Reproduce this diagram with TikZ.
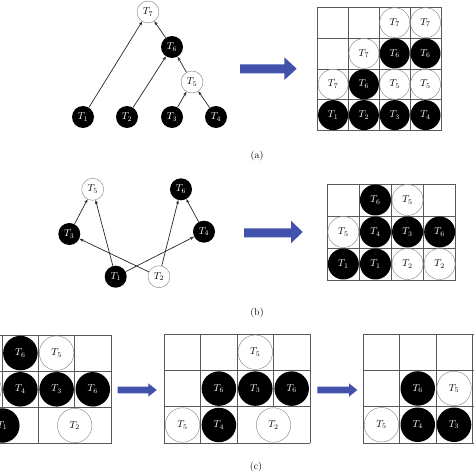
\documentclass[tikz,border=0pt]{standalone}
\usepackage{amsmath, amssymb}
\usepackage{tikz}
\usetikzlibrary{arrows.meta}

\definecolor{arrowblue}{RGB}{66,82,172}

\begin{document}
\begin{tikzpicture}[x=1pt, y=-1pt,
    blk/.style={circle, fill=black, text=white, inner sep=0pt, minimum size=22pt},
    wht/.style={circle, draw=gray, thin, fill=white, text=black, inner sep=0pt, minimum size=22pt},
    cellsize/.style={blk/.append style={minimum size=#1}, wht/.append style={minimum size=#1}},
    edge/.style={-{Stealth[length=4pt, width=3pt]}, line width=0.7pt, black!85},
    gridline/.style={line width=0.8pt, black!65}]
    \useasboundingbox (0,0) rectangle (474,474);
    \clip (0,0) rectangle (474,474);

    % (a) tree
    \node[wht] (a7) at (148,12) {$T_7$};
    \node[blk] (a6) at (172,47) {$T_6$};
    \node[wht] (a5) at (192,82) {$T_5$};
    \node[blk] (a1) at (83,117) {$T_1$};
    \node[blk] (a2) at (127,117) {$T_2$};
    \node[blk] (a3) at (172,117) {$T_3$};
    \node[blk] (a4) at (216,117) {$T_4$};
    \draw[edge] (a1) -- (a7);
    \draw[edge] (a6) -- (a7);
    \draw[edge] (a2) -- (a6);
    \draw[edge] (a5) -- (a6);
    \draw[edge] (a3) -- (a5);
    \draw[edge] (a4) -- (a5);

    \fill[arrowblue] (240,64.3) -- (284.3,64.3) -- (284.3,57.3) -- (296.7,68.7) -- (284.3,80) -- (284.3,73.3) -- (240,73.3) -- cycle;

    \begin{scope}[shift={(317.7,7.3)}, x=30.8pt, y=-30.8pt, cellsize=30pt]
      \foreach \i in {0,...,4} \draw[gridline] (\i,0) -- (\i,4);
      \foreach \j in {0,...,4} \draw[gridline] (0,\j) -- (4,\j);
      \foreach \i/\j/\k in {2/0/7, 3/0/7, 1/1/7, 0/2/7, 2/2/5, 3/2/5}
        \node[wht] (ga\i\j) at (\i+0.5,\j+0.5) {$T_{\k}$};
      \foreach \i/\j/\k in {2/1/6, 3/1/6, 1/2/6, 0/3/1, 1/3/2, 2/3/3, 3/3/4}
        \node[blk] (ga\i\j) at (\i+0.5,\j+0.5) {$T_{\k}$};
    \end{scope}
    \node (lbla) at (257,156) {(a)};

    % (b) tree
    \node[wht] (b5) at (92.7,189.3) {$T_5$};
    \node[blk] (b6) at (181,189.3) {$T_6$};
    \node[blk] (b3) at (69.3,234) {$T_3$};
    \node[blk] (b4) at (204,231.7) {$T_4$};
    \node[blk] (b1) at (115.7,276.7) {$T_1$};
    \node[wht] (b2) at (159,276.7) {$T_2$};
    \draw[edge] (b3) -- (b5);
    \draw[edge] (b1) -- (b5);
    \draw[edge] (b2) -- (b3);
    \draw[edge] (b1) -- (b4);
    \draw[edge] (b2) -- (b6);
    \draw[edge] (b4) -- (b6);

    \fill[arrowblue] (244,228.3) -- (291,228.3) -- (291,220.7) -- (302.7,232) -- (291,243.3) -- (291,237.3) -- (244,237.3) -- cycle;

    \begin{scope}[shift={(327.3,184)}, x=32.1pt, y=-32pt, cellsize=31pt]
      \foreach \i in {0,...,4} \draw[gridline] (\i,0) -- (\i,3);
      \foreach \j in {0,...,3} \draw[gridline] (0,\j) -- (4,\j);
      \foreach \i/\j/\k in {2/0/5, 0/1/5, 2/2/2, 3/2/2}
        \node[wht] (gb\i\j) at (\i+0.5,\j+0.5) {$T_{\k}$};
      \foreach \i/\j/\k in {1/0/6, 1/1/4, 2/1/3, 3/1/6, 0/2/1, 1/2/1}
        \node[blk] (gb\i\j) at (\i+0.5,\j+0.5) {$T_{\k}$};
    \end{scope}
    \node (lblb) at (257,313) {(b)};

    % (c) three steps
    \begin{scope}[shift={(-33.9,335)}, x=36.2pt, y=-36.2pt, cellsize=34.5pt]
      \foreach \i in {0,...,4} \draw[gridline] (\i,0) -- (\i,2);
      \foreach \i in {0,2,4} \draw[gridline] (\i,2) -- (\i,3);
      \foreach \j in {0,...,3} \draw[gridline] (0,\j) -- (4,\j);
      \foreach \i/\j/\k in {2/0/5, 0/1/5}
        \node[wht] (gc\i\j) at (\i+0.5,\j+0.5) {$T_{\k}$};
      \foreach \i/\j/\k in {1/0/6, 1/1/4, 2/1/3, 3/1/6}
        \node[blk] (gc\i\j) at (\i+0.5,\j+0.5) {$T_{\k}$};
      \node[blk] (gc02) at (1,2.5) {$T_1$};
      \node[wht] (gc22) at (3,2.5) {$T_2$};
    \end{scope}

    \fill[arrowblue] (117.7,386.7) -- (148.3,386.7) -- (148.3,383.3) -- (156.7,390) -- (148.3,396.7) -- (148.3,393.3) -- (117.7,393.3) -- cycle;

    \begin{scope}[shift={(164.3,334)}, x=36.4pt, y=-36.4pt, cellsize=34.5pt]
      \foreach \i in {0,...,4} \draw[gridline] (\i,0) -- (\i,2);
      \foreach \i in {0,1,2,4} \draw[gridline] (\i,2) -- (\i,3);
      \foreach \j in {0,...,3} \draw[gridline] (0,\j) -- (4,\j);
      \foreach \i/\j/\k in {2/0/5, 0/2/5}
        \node[wht] (gd\i\j) at (\i+0.5,\j+0.5) {$T_{\k}$};
      \foreach \i/\j/\k in {1/1/6, 2/1/3, 3/1/6, 1/2/4}
        \node[blk] (gd\i\j) at (\i+0.5,\j+0.5) {$T_{\k}$};
      \node[wht] (gd22) at (3,2.5) {$T_2$};
    \end{scope}

    \fill[arrowblue] (317.3,386.7) -- (349,386.7) -- (349,383.3) -- (357.3,390) -- (349,396.7) -- (349,393.3) -- (317.3,393.3) -- cycle;

    \begin{scope}[shift={(363.3,334)}, x=36.3pt, y=-36.3pt, cellsize=34.5pt]
      \foreach \i in {0,...,4} \draw[gridline] (\i,0) -- (\i,3);
      \foreach \j in {0,...,3} \draw[gridline] (0,\j) -- (4,\j);
      \foreach \i/\j/\k in {2/1/5, 0/2/5}
        \node[wht] (ge\i\j) at (\i+0.5,\j+0.5) {$T_{\k}$};
      \foreach \i/\j/\k in {1/1/6, 1/2/4, 2/2/3}
        \node[blk] (ge\i\j) at (\i+0.5,\j+0.5) {$T_{\k}$};
    \end{scope}
    \node (lblc) at (256,467) {(c)};
  \end{tikzpicture}
\end{document}
